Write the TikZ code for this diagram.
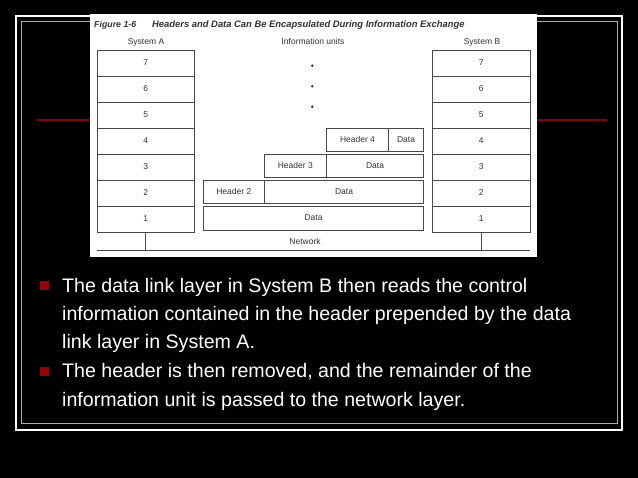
\documentclass[tikz,border=0pt]{standalone}
\usepackage{fontspec}
\setmainfont{Liberation Sans}
\definecolor{figline}{HTML}{484848}
\definecolor{figtext}{HTML}{333333}
\definecolor{bulletred}{HTML}{A00000}
\definecolor{redline}{HTML}{8E0000}
\definecolor{framegray}{HTML}{A8A8A8}
\begin{document}
\begin{tikzpicture}[x=1pt,y=-1pt,
  figfont/.style={font=\fontsize{8.5}{10}\selectfont, text=figtext},
  cell/.style={figfont, draw=figline, line width=0.8pt, minimum width=97.5pt, minimum height=26pt, inner sep=0pt},
  unit/.style={figfont, draw=figline, line width=0.8pt, minimum height=23.5pt, inner sep=0pt},
  lbl/.style={figfont, inner sep=0pt, anchor=base},
  ttl/.style={font=\bfseries\itshape\fontsize{8.8}{10}\selectfont, text=figtext, inner sep=0pt, anchor=base west},
  dotn/.style={circle, fill=figtext, inner sep=0pt, minimum size=2.8pt},
  bul/.style={fill=bulletred, minimum width=9pt, minimum height=9pt, inner sep=0pt},
  btext/.style={text=white, font=\fontsize{19.6}{28}\selectfont, anchor=base west, inner sep=0pt}
]
\fill[black] (0,0) rectangle (638,478);
\useasboundingbox (0,0) rectangle (638,478);
% slide frame
\draw[white, line width=2pt] (16,16) rectangle (622,430);
\draw[framegray, line width=0.9pt] (21,21) rectangle (617,423);
\draw[redline, line width=1.2pt] (37,120) -- (607,120);
% figure area
\fill[white] (90,14) rectangle (537,257);
\node[ttl] (fig) at (94,28) {Figure 1-6};
\node[ttl, font=\bfseries\itshape\fontsize{9.4}{10}\selectfont] (title) at (152,28) {Headers and Data Can Be Encapsulated During Information Exchange};
\node[lbl] (sysA) at (146,45) {System A};
\node[lbl] (info) at (313,45) {Information units};
\node[lbl] (sysB) at (482,45) {System B};
% stacks
\foreach \i in {1,...,7} {
  \node[cell] (a\i) at (145.8,{63+26*(7-\i)}) {\i};
  \node[cell] (b\i) at (481.2,{63+26*(7-\i)}) {\i};
}
% dots
\node[dotn] (d1) at (312.3,65.7) {};
\node[dotn] (d2) at (312.3,86.3) {};
\node[dotn] (d3) at (312.3,106.7) {};
% information units
\node[unit, minimum width=61.6pt] (h4) at (357.5,139.75) {Header 4};
\node[unit, minimum width=35.4pt] (u4) at (406,139.75) {Data};
\node[unit, minimum width=62pt] (h3) at (295.3,165.75) {Header 3};
\node[unit, minimum width=97.4pt] (u3) at (375,165.75) {Data};
\node[unit, minimum width=61pt] (h2) at (233.8,191.75) {Header 2};
\node[unit, minimum width=159.4pt] (u2) at (344,191.75) {Data};
\node[unit, minimum width=220.4pt, minimum height=24pt] (u1) at (313.5,218) {Data};
% network
\coordinate (netL) at (97,250);
\coordinate (netR) at (530,250);
\draw[figline, line width=0.8pt] (netL) -- (netR);
\draw[figline, line width=0.8pt] (a1.south) -- (a1.south |- netL);
\draw[figline, line width=0.8pt] (b1.south) -- (b1.south |- netL);
\node[lbl] (net) at (305,245) {Network};
% bullets
\node[bul] (s1) at (44,285.5) {};
\node[btext] (l1) at (62,292.5) {The data link layer in System B then reads the control};
\node[btext] (l2) at (62,321) {information contained in the header prepended by the data};
\node[btext] (l3) at (62,348.5) {link layer in System A.};
\node[bul] (s2) at (44,372) {};
\node[btext] (l4) at (62,378) {The header is then removed, and the remainder of the};
\node[btext] (l5) at (62,406.5) {information unit is passed to the network layer.};
\end{tikzpicture}
\end{document}
